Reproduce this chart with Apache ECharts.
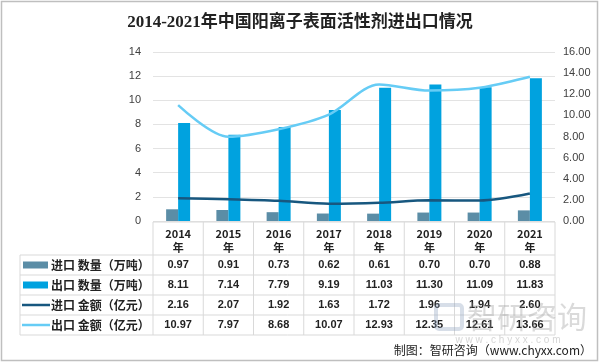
<!DOCTYPE html>
<html><head><meta charset="utf-8">
<script src="https://cdn.jsdelivr.net/npm/echarts@6/dist/echarts.min.js"></script>
<style>html,body{margin:0;padding:0;background:#fff}#c{width:600px;height:364px}</style>
</head><body><div id="c"></div>
<script>
var years = ['2014','2015','2016','2017','2018','2019','2020','2021'];
var importQty = [0.97,0.91,0.73,0.62,0.61,0.70,0.70,0.88];
var exportQty = [8.11,7.14,7.79,9.19,11.03,11.30,11.09,11.83];
var importAmt = [2.16,2.07,1.92,1.63,1.72,1.96,1.94,2.60];
var exportAmt = [10.97,7.97,8.68,10.07,12.93,12.35,12.61,13.66];
var seriesNames = ['进口 数量（万吨）','出口 数量（万吨）','进口 金额（亿元）','出口 金额（亿元）'];
var colors = ['#5B8DA6','#00A2DF','#17577F','#66CCF5'];
var tableRows = [importQty, exportQty, importAmt, exportAmt];

var cjk = '"Noto Sans CJK SC", "Noto Sans", sans-serif';
var chart = echarts.init(document.getElementById('c'));
var GL = 153, GR = 45, GT = 52, GB = 143;
var option = {
  animation: false,
  title: {text: '2014-2021年中国阳离子表面活性剂进出口情况', left: 'center', top: 9,
    textStyle: {fontFamily: '"Liberation Serif", "Noto Sans CJK SC", serif', fontSize: 17, fontWeight: 'bold', color: '#222'}},
  grid: {left: GL, right: GR, top: GT, bottom: GB},
  xAxis: {type: 'category', data: years,
    axisLine: {show: false}, axisTick: {show: false},
    axisLabel: {formatter: function(v){return v + '\n年';}, fontFamily: cjk, fontSize: 11, fontWeight: 'bold', color: '#222', lineHeight: 14, margin: 6}},
  yAxis: [
    {type: 'value', min: 0, max: 14, interval: 2,
      axisLabel: {color: '#404040', fontSize: 11, fontFamily: 'Liberation Sans, sans-serif', margin: 12},
      axisLine: {show: false}, axisTick: {show: false},
      splitLine: {lineStyle: {color: '#e3e3e3'}}},
    {type: 'value', min: 0, max: 16, interval: 2,
      axisLabel: {color: '#404040', fontSize: 11, fontFamily: 'Liberation Sans, sans-serif', margin: 8, formatter: function(v){return v.toFixed(2);}},
      axisLine: {show: false}, axisTick: {show: false}, splitLine: {show: false}}
  ],
  series: [
    {name: seriesNames[0], type: 'bar', data: importQty, barWidth: 12, barGap: '0%', itemStyle: {color: colors[0]}, yAxisIndex: 0},
    {name: seriesNames[1], type: 'bar', data: exportQty, barWidth: 12, barGap: '0%', itemStyle: {color: colors[1]}, yAxisIndex: 0},
    {name: seriesNames[2], type: 'line', data: importAmt, yAxisIndex: 1, smooth: 0.3, symbol: 'none', lineStyle: {color: colors[2], width: 2.5}, itemStyle: {color: colors[2]}},
    {name: seriesNames[3], type: 'line', data: exportAmt, yAxisIndex: 1, smooth: 0.3, symbol: 'none', lineStyle: {color: colors[3], width: 2.5}, itemStyle: {color: colors[3]}}
  ]
};
chart.setOption(option);

// Build data table below chart using axis positions
var g = [];
var lineColor = '#d9d9d9';
var band = (600 - GL - GR) / years.length;
var xs = years.map(function(y){ return chart.convertToPixel({xAxisIndex: 0}, y); });
var left0 = xs[0] - band / 2, right0 = xs[xs.length-1] + band / 2;
var tableTop = 222, headerBottom = 255, rowH = 20;
var legendLeft = 20;
function line(x1,y1,x2,y2){ g.push({type:'line', shape:{x1:x1,y1:y1,x2:x2,y2:y2}, style:{stroke: lineColor, lineWidth: 1}, silent:true}); }
line(left0, tableTop, right0, tableTop);
for (var i = 0; i <= years.length; i++) {
  var vx = left0 + i * band;
  line(vx, tableTop, vx, headerBottom + rowH * tableRows.length);
}
line(legendLeft, headerBottom, legendLeft, headerBottom + rowH * tableRows.length);
for (var r = 0; r <= tableRows.length; r++) {
  line(legendLeft, headerBottom + r * rowH, right0, headerBottom + r * rowH);
}
tableRows.forEach(function(row, r){
  var cy = headerBottom + r * rowH + rowH / 2;
  if (r < 2) {
    g.push({type:'rect', shape:{x: legendLeft + 3, y: cy - 3.5, width: 25, height: 7}, style:{fill: colors[r]}, silent:true});
  } else {
    g.push({type:'line', shape:{x1: legendLeft + 2, y1: cy, x2: legendLeft + 30, y2: cy}, style:{stroke: colors[r], lineWidth: 2.5}, silent:true});
  }
  g.push({type:'text', x: legendLeft + 31, y: cy, style:{text: seriesNames[r], fontFamily: cjk, fontSize: 12, fontWeight: 'bold', fill: '#222', verticalAlign: 'middle', align: 'left'}, silent:true});
  row.forEach(function(v, i){
    g.push({type:'text', x: xs[i], y: cy, style:{text: v.toFixed(2), fontFamily: 'Liberation Sans, sans-serif', fontSize: 11, fontWeight: 'bold', fill: '#222', align: 'center', verticalAlign: 'middle'}, silent:true});
  });
});
// watermark
g.push({type:'rect', z: 100, shape:{x: 436, y: 305, width: 26, height: 24, r: 3}, style:{fill: 'none', stroke: 'rgba(140,160,190,0.35)', lineWidth: 4}, silent:true});
g.push({type:'text', x: 527, y: 317, z: 100, style:{text: '智研咨询', fontFamily: cjk, fontSize: 30, fill: 'rgba(150,150,150,0.35)', align: 'center', verticalAlign: 'middle'}, silent:true});
g.push({type:'text', x: 508, y: 340, z: 100, style:{text: 'w w w . c h y x x . c o m', fontFamily: 'Liberation Sans, sans-serif', fontSize: 10, fill: 'rgba(150,150,150,0.4)', align: 'center', verticalAlign: 'middle'}, silent:true});
// source
g.push({type:'text', x: 592, y: 350, style:{text: '制图：智研咨询（www.chyxx.com）', fontFamily: cjk, fontSize: 12, fill: '#222', align: 'right', verticalAlign: 'middle'}, silent:true});
// outer border
g.push({type:'rect', shape:{x: 1.5, y: 1.5, width: 596, height: 359}, style:{fill: 'none', stroke: '#bfbfbf', lineWidth: 1.5}, silent:true});
chart.setOption({graphic: g});
</script></body></html>
